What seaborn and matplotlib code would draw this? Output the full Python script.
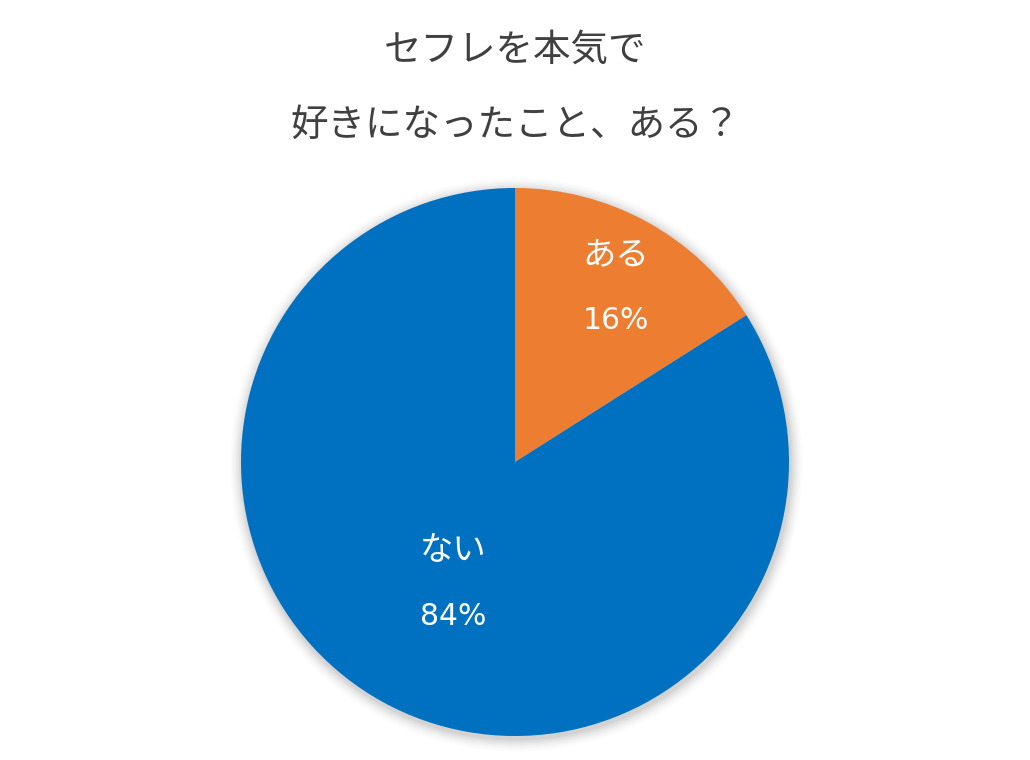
import numpy as np
import matplotlib
matplotlib.use("Agg")
import matplotlib.pyplot as plt
import seaborn as sns
from matplotlib.patches import Circle

# data
labels = ['ある', 'ない']
shares = [16, 84]
colors = ['#ED7D31', '#0070C0']
title_lines = ['セフレを本気で', '好きになったこと、ある？']

sns.set_theme(style='white')
plt.rcParams['font.family'] = ['Noto Sans CJK JP', 'DejaVu Sans']

fig = plt.figure(figsize=(10.3, 7.6), dpi=100)
fig.patch.set_facecolor('white')

# pie area: centre (515, 462) px, radius 274 px
pad = 1.08
ax = fig.add_axes([(515 - 274 * pad) / 1030, (760 - 462 - 274 * pad) / 760,
                   548 * pad / 1030, 548 * pad / 760])
ax.axis('off')

# soft shadow
for i, a in enumerate(np.linspace(0.035, 0.006, 8)):
    ax.add_patch(Circle((0.005, -0.01), 1.0 + 0.006 * (i + 1), color='black',
                        alpha=a, lw=0, zorder=0))

wedges, _ = ax.pie(shares, colors=colors, startangle=90, counterclock=False,
                   radius=1.0, wedgeprops=dict(linewidth=0))
for w in wedges:
    w.set_zorder(2)

ax.set_xlim(-pad, pad)
ax.set_ylim(-pad, pad)
ax.set_aspect('equal')

# labels
dist = [0.73, 0.5]
total = sum(shares)
start = 90.0
for lab, val, d in zip(labels, shares, dist):
    mid = start - val / total * 360 / 2
    start -= val / total * 360
    x = d * np.cos(np.radians(mid)) + 0.015
    y = d * np.sin(np.radians(mid)) - 0.01
    ax.text(x, y + 0.125, lab, ha='center', va='center', color='white',
            fontsize=24, zorder=3)
    ax.text(x, y - 0.115, f'{val}%', ha='center', va='center', color='white',
            fontsize=21.5, family=['DejaVu Sans'], zorder=3)

fig.text(0.5, 1 - 50 / 760, title_lines[0], ha='center', va='center',
         color='#404040', fontsize=27)
fig.text(0.5, 1 - 125 / 760, title_lines[1], ha='center', va='center',
         color='#404040', fontsize=27)

fig.savefig('out.png', dpi=100, facecolor='white')
